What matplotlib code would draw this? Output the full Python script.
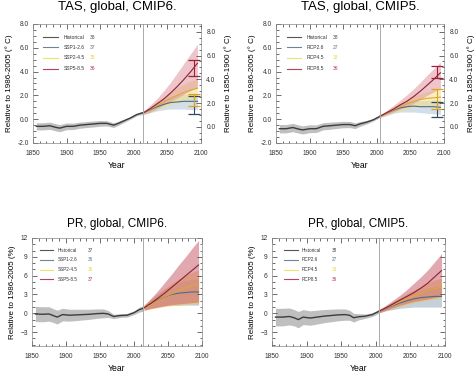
import numpy as np
import matplotlib
matplotlib.use("Agg")
import matplotlib.pyplot as plt
from matplotlib.ticker import MultipleLocator, FormatStrFormatter

plt.rcParams['font.family'] = ['Liberation Sans', 'DejaVu Sans']

# ---------------- data ----------------
# TAS CMIP6
tas6_hist_years = [1855, 1865, 1875, 1885, 1890, 1900, 1910, 1920, 1930, 1940, 1950, 1960, 1970, 1975, 1985, 1995, 2005, 2014]
tas6_hist = [-0.6, -0.6, -0.55, -0.7, -0.75, -0.6, -0.6, -0.5, -0.45, -0.4, -0.35, -0.35, -0.5, -0.4, -0.15, 0.1, 0.4, 0.55]
tas6_hist_sd = [0.3, 0.3, 0.3, 0.3, 0.3, 0.28, 0.27, 0.26, 0.25, 0.25, 0.24, 0.22, 0.2, 0.18, 0.14, 0.1, 0.1, 0.14]
tas6_years = [2015, 2025, 2035, 2045, 2055, 2065, 2075, 2085, 2095]
tas6_low_mean = [0.55, 0.8, 1.05, 1.25, 1.4, 1.45, 1.5, 1.5, 1.5]
tas6_low_hi = [0.7, 1.05, 1.4, 1.7, 1.95, 2.05, 2.1, 2.15, 2.15]
tas6_low_lo = [0.4, 0.55, 0.7, 0.8, 0.85, 0.85, 0.85, 0.8, 0.8]
tas6_mid_mean = [0.55, 0.85, 1.15, 1.45, 1.75, 2.0, 2.25, 2.45, 2.6]
tas6_mid_hi = [0.7, 1.1, 1.5, 1.9, 2.3, 2.65, 2.95, 3.2, 3.4]
tas6_mid_lo = [0.4, 0.6, 0.8, 1.0, 1.2, 1.35, 1.5, 1.6, 1.7]
tas6_high_mean = [0.55, 0.9, 1.3, 1.7, 2.2, 2.75, 3.35, 4.0, 4.7]
tas6_high_hi = [0.7, 1.2, 1.75, 2.4, 3.1, 3.9, 4.7, 5.5, 6.3]
tas6_high_lo = [0.4, 0.6, 0.9, 1.2, 1.5, 1.8, 2.1, 2.4, 2.7]
tas6_bars = [(0.45, 1.95), (1.15, 2.15), (3.6, 5.0)]

# TAS CMIP5
tas5_hist_years = [1855, 1865, 1875, 1885, 1890, 1900, 1910, 1920, 1930, 1940, 1950, 1960, 1968, 1975, 1985, 1995, 2005]
tas5_hist = [-0.8, -0.8, -0.7, -0.85, -0.9, -0.8, -0.8, -0.6, -0.55, -0.5, -0.45, -0.45, -0.55, -0.4, -0.25, -0.05, 0.25]
tas5_hist_sd = [0.35, 0.35, 0.35, 0.34, 0.34, 0.33, 0.32, 0.3, 0.3, 0.28, 0.27, 0.26, 0.24, 0.2, 0.15, 0.1, 0.1]
tas5_years = [2005, 2015, 2025, 2035, 2045, 2055, 2065, 2075, 2085, 2095]
tas5_low_mean = [0.25, 0.5, 0.75, 0.95, 1.05, 1.1, 1.05, 1.05, 1.05, 1.0]
tas5_low_hi = [0.35, 0.7, 1.0, 1.3, 1.45, 1.55, 1.55, 1.6, 1.6, 1.6]
tas5_low_lo = [0.15, 0.3, 0.5, 0.6, 0.6, 0.6, 0.55, 0.5, 0.45, 0.4]
tas5_mid_mean = [0.25, 0.5, 0.8, 1.05, 1.3, 1.5, 1.65, 1.75, 1.8, 1.85]
tas5_mid_hi = [0.35, 0.7, 1.05, 1.4, 1.7, 1.95, 2.15, 2.3, 2.45, 2.55]
tas5_mid_lo = [0.15, 0.35, 0.55, 0.7, 0.85, 0.95, 1.05, 1.1, 1.1, 1.1]
tas5_high_mean = [0.25, 0.55, 0.85, 1.2, 1.5, 1.9, 2.35, 2.85, 3.35, 3.9]
tas5_high_hi = [0.35, 0.75, 1.15, 1.6, 2.05, 2.55, 3.1, 3.7, 4.25, 4.8]
tas5_high_lo = [0.15, 0.4, 0.6, 0.85, 1.05, 1.35, 1.65, 2.0, 2.3, 2.6]
tas5_bars = [(0.2, 1.45), (0.85, 2.5), (3.5, 4.5)]

# PR CMIP6
pr6_hist_years = [1855, 1865, 1875, 1880, 1887, 1895, 1905, 1915, 1925, 1935, 1945, 1955, 1962, 1970, 1980, 1990, 2000, 2008, 2014]
pr6_hist = [-0.1, -0.15, -0.1, -0.3, -0.6, -0.2, -0.3, -0.25, -0.2, -0.15, -0.05, 0.0, -0.1, -0.5, -0.35, -0.3, 0.1, 0.6, 0.8]
pr6_hist_sd = [1.2, 1.2, 1.15, 1.1, 1.1, 1.0, 0.95, 0.9, 0.85, 0.8, 0.75, 0.7, 0.55, 0.35, 0.3, 0.3, 0.3, 0.4, 0.45]
pr6_years = [2015, 2025, 2035, 2045, 2055, 2065, 2075, 2085, 2095]
pr6_low_mean = [0.9, 1.5, 2.1, 2.6, 3.0, 3.2, 3.3, 3.4, 3.4]
pr6_low_hi = [1.3, 2.3, 3.1, 3.9, 4.5, 4.9, 5.2, 5.4, 5.5]
pr6_low_lo = [0.5, 0.8, 1.0, 1.2, 1.3, 1.3, 1.3, 1.3, 1.3]
pr6_mid_mean = [0.9, 1.4, 2.0, 2.6, 3.1, 3.6, 4.0, 4.4, 4.8]
pr6_mid_hi = [1.3, 2.2, 3.0, 3.9, 4.7, 5.4, 6.0, 6.5, 6.9]
pr6_mid_lo = [0.5, 0.7, 0.9, 1.1, 1.2, 1.3, 1.4, 1.5, 1.5]
pr6_high_mean = [0.9, 1.6, 2.4, 3.2, 4.1, 5.0, 5.9, 6.8, 7.7]
pr6_high_hi = [1.3, 2.4, 3.6, 4.9, 6.2, 7.6, 8.9, 10.3, 11.6]
pr6_high_lo = [0.5, 0.8, 1.0, 1.2, 1.4, 1.5, 1.6, 1.7, 1.8]

# PR CMIP5
pr5_hist_years = [1855, 1865, 1875, 1882, 1888, 1895, 1905, 1915, 1925, 1935, 1945, 1955, 1962, 1968, 1975, 1985, 1995, 2005]
pr5_hist = [-0.6, -0.6, -0.5, -0.7, -1.0, -0.6, -0.75, -0.6, -0.45, -0.35, -0.25, -0.2, -0.3, -0.7, -0.55, -0.45, -0.2, 0.35]
pr5_hist_sd = [1.4, 1.4, 1.35, 1.3, 1.3, 1.2, 1.15, 1.1, 1.05, 1.0, 0.95, 0.9, 0.8, 0.7, 0.5, 0.35, 0.3, 0.3]
pr5_years = [2005, 2015, 2025, 2035, 2045, 2055, 2065, 2075, 2085, 2095]
pr5_low_mean = [0.35, 0.8, 1.25, 1.65, 2.0, 2.3, 2.5, 2.6, 2.7, 2.7]
pr5_low_hi = [0.6, 1.2, 1.8, 2.4, 2.9, 3.3, 3.7, 4.0, 4.2, 4.3]
pr5_low_lo = [0.1, 0.4, 0.6, 0.8, 0.9, 1.0, 1.0, 1.0, 1.0, 1.0]
pr5_mid_mean = [0.35, 0.85, 1.35, 1.85, 2.3, 2.8, 3.2, 3.6, 3.9, 4.2]
pr5_mid_hi = [0.6, 1.2, 1.9, 2.5, 3.1, 3.7, 4.3, 4.8, 5.3, 5.6]
pr5_mid_lo = [0.1, 0.5, 0.8, 1.1, 1.4, 1.7, 1.9, 2.1, 2.3, 2.5]
pr5_high_mean = [0.35, 0.9, 1.5, 2.1, 2.7, 3.3, 4.0, 4.8, 5.8, 6.8]
pr5_high_hi = [0.6, 1.3, 2.1, 2.9, 3.8, 4.8, 5.8, 6.9, 8.2, 9.5]
pr5_high_lo = [0.1, 0.5, 0.9, 1.3, 1.6, 1.9, 2.1, 2.3, 2.5, 2.7]

cmip6_names = ['Historical', 'SSP1-2.6', 'SSP2-4.5', 'SSP5-8.5']
cmip5_names = ['Historical', 'RCP2.6', 'RCP4.5', 'RCP8.5']
tas6_counts = [38, 37, 35, 36]
tas5_counts = [38, 27, 33, 36]
pr6_counts = [37, 36, 35, 37]
pr5_counts = [38, 27, 33, 36]

# ---------------- styles ----------------
hist_line, hist_band = '#3c3c3c', '#b4b4b4'
line_cols = ['#4f6b85', '#e0a53a', '#8e2034']
band_cols_tas = ['#a9bfd2', '#f2df7a', '#dc8c98']
band_cols_pr = ['#9fb2c4', '#f0c24a', '#cf6f7c']
bar_cols = ['#2e4a66', '#e0a020', '#a0203a']
leg_line_cols = ['#555555', '#6f849a', '#ece36a', '#b8405a']
count_cols = ['#444444', '#56708e', '#e8d84a', '#b23048']


def style_ticks(ax):
    ax.tick_params(which='both', direction='in', labelsize=4.8, colors='#333333', width=0.5)
    ax.tick_params(which='major', length=3.5)
    ax.tick_params(which='minor', length=1.8)


def draw_panel(ax, hy, hm, hsd, fy, futures, split, band_cols, band_alpha):
    hy = np.array(hy)
    hm = np.array(hm)
    hsd = np.array(hsd)
    ax.fill_between(hy, hm - hsd, hm + hsd, color=hist_band, alpha=0.85, lw=0)
    for i, (m, hi, lo) in enumerate(futures):
        ax.fill_between(fy, lo, hi, color=band_cols[i], alpha=band_alpha, lw=0)
    ax.plot(hy, hm, color=hist_line, lw=1.0)
    for i, (m, hi, lo) in enumerate(futures):
        ax.plot(fy, m, color=line_cols[i], lw=0.8)
    ax.axvline(split, color='#aaaaaa', lw=0.7)
    ax.set_xlim(1850, 2100)
    ax.xaxis.set_major_locator(MultipleLocator(50))
    ax.xaxis.set_minor_locator(MultipleLocator(10))
    style_ticks(ax)
    ax.tick_params(which='both', top=True, right=True)
    ax.tick_params(axis='x', pad=5)
    ax.tick_params(axis='y', pad=3)
    for s in ax.spines.values():
        s.set_linewidth(0.5)
        s.set_color('#888888')
    ax.set_xlabel('Year', fontsize=6.2, labelpad=3)


def draw_legend(ax, names, counts, x0, x1, xt, xc, rows, fs):
    for i in range(4):
        ax.plot([x0, x1], [rows[i], rows[i]], transform=ax.transAxes,
                color=leg_line_cols[i], lw=0.8, clip_on=False)
        ax.text(xt, rows[i], names[i], transform=ax.transAxes, fontsize=fs,
                va='center', color='#333333')
        ax.text(xc, rows[i], str(counts[i]), transform=ax.transAxes, fontsize=fs,
                va='center', color=count_cols[i])


def draw_bars(ax, bars):
    for i, (lo, hi) in enumerate(bars):
        ax.errorbar([2090], [(lo + hi) / 2], yerr=[[(hi - lo) / 2], [(hi - lo) / 2]],
                    fmt='none', ecolor=bar_cols[i], elinewidth=0.8, capsize=4.5, capthick=0.9)


fig = plt.figure(figsize=(4.74, 3.79), dpi=100)
ax1 = fig.add_axes([0.0696, 0.6227, 0.354, 0.314])
ax2 = fig.add_axes([0.5823, 0.6227, 0.354, 0.314])
ax3 = fig.add_axes([0.0675, 0.0871, 0.3586, 0.285])
ax4 = fig.add_axes([0.5738, 0.0871, 0.365, 0.285])

draw_panel(ax1, tas6_hist_years, tas6_hist, tas6_hist_sd, tas6_years,
           [(tas6_low_mean, tas6_low_hi, tas6_low_lo),
            (tas6_mid_mean, tas6_mid_hi, tas6_mid_lo),
            (tas6_high_mean, tas6_high_hi, tas6_high_lo)], 2014, band_cols_tas, 0.5)
draw_panel(ax2, tas5_hist_years, tas5_hist, tas5_hist_sd, tas5_years,
           [(tas5_low_mean, tas5_low_hi, tas5_low_lo),
            (tas5_mid_mean, tas5_mid_hi, tas5_mid_lo),
            (tas5_high_mean, tas5_high_hi, tas5_high_lo)], 2005, band_cols_tas, 0.5)
draw_panel(ax3, pr6_hist_years, pr6_hist, pr6_hist_sd, pr6_years,
           [(pr6_low_mean, pr6_low_hi, pr6_low_lo),
            (pr6_mid_mean, pr6_mid_hi, pr6_mid_lo),
            (pr6_high_mean, pr6_high_hi, pr6_high_lo)], 2014, band_cols_pr, 0.6)
draw_panel(ax4, pr5_hist_years, pr5_hist, pr5_hist_sd, pr5_years,
           [(pr5_low_mean, pr5_low_hi, pr5_low_lo),
            (pr5_mid_mean, pr5_mid_hi, pr5_mid_lo),
            (pr5_high_mean, pr5_high_hi, pr5_high_lo)], 2005, band_cols_pr, 0.6)

draw_bars(ax1, tas6_bars)
draw_bars(ax2, tas5_bars)

offset = 0.65
for ax, title in [(ax1, 'TAS, global, CMIP6.'), (ax2, 'TAS, global, CMIP5.')]:
    ax.set_ylim(-2, 8)
    ax.yaxis.set_major_locator(MultipleLocator(2))
    ax.yaxis.set_minor_locator(MultipleLocator(0.5))
    ax.yaxis.set_major_formatter(FormatStrFormatter('%.1f'))
    ax.set_ylabel('Relative to 1986-2005 (° C)', fontsize=5.8, labelpad=3)
    ax.set_title(title, fontsize=9.5, pad=10)
    tw = ax.twinx()
    tw.set_ylim(-2 + offset, 8 + offset)
    tw.yaxis.set_minor_locator(MultipleLocator(0.5))
    tw.set_yticks([0, 2, 4, 6, 8])
    tw.yaxis.set_major_formatter(FormatStrFormatter('%.1f'))
    style_ticks(tw)
    tw.tick_params(axis='y', pad=4)
    for s in tw.spines.values():
        s.set_visible(False)
    tw.set_ylabel('Relative to 1850-1900 (° C)', fontsize=5.8, labelpad=6)

for ax, title in [(ax3, 'PR, global, CMIP6.'), (ax4, 'PR, global, CMIP5.')]:
    ax.set_ylim(-5.2, 12)
    ax.yaxis.set_major_locator(MultipleLocator(3))
    ax.yaxis.set_minor_locator(MultipleLocator(1))
    ax.set_ylabel('Relative to 1986-2005 (%)', fontsize=5.8, labelpad=3)
    ax.set_title(title, fontsize=8.5, pad=8)

rows_top = [0.89, 0.805, 0.715, 0.625]
rows_bot = [0.886, 0.80, 0.705, 0.62]
draw_legend(ax1, cmip6_names, tas6_counts, 0.06, 0.15, 0.185, 0.34, rows_top, 3.6)
draw_legend(ax2, cmip5_names, tas5_counts, 0.065, 0.149, 0.185, 0.34, rows_top, 3.6)
draw_legend(ax3, cmip6_names, pr6_counts, 0.047, 0.124, 0.151, 0.328, rows_bot, 3.3)
draw_legend(ax4, cmip5_names, pr5_counts, 0.069, 0.15, 0.172, 0.345, rows_bot, 3.3)

fig.savefig('out.png', dpi=100)
